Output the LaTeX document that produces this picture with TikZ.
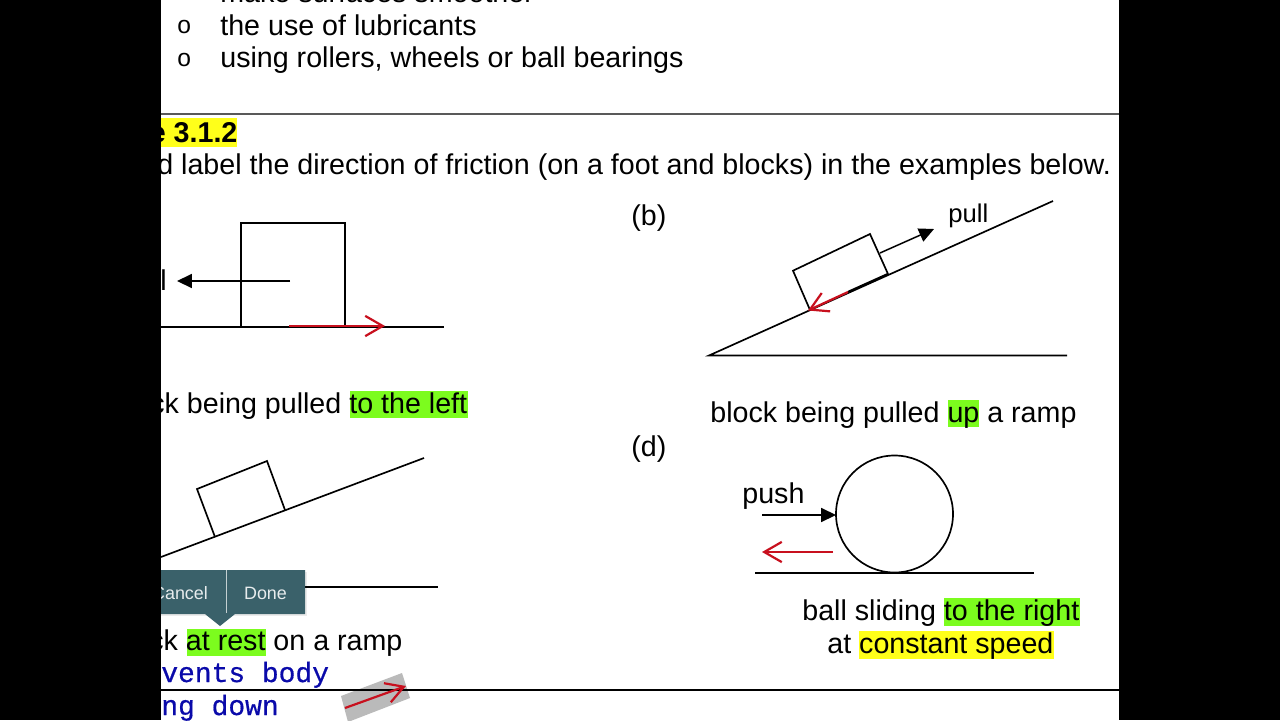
\documentclass[tikz,border=0pt]{standalone}
\usepackage{fontspec}
\setmainfont{Liberation Sans}
\newfontfamily\codefont[FakeBold=0.6]{Liberation Mono}
\usetikzlibrary{arrows.meta}
\definecolor{hlgreen}{HTML}{7CFC1E}
\definecolor{hlyellow}{HTML}{FFFF1A}
\definecolor{popup}{HTML}{3A616A}
\definecolor{frictionred}{HTML}{C8101E}
\definecolor{codeblue}{HTML}{0A0AAA}
\tikzset{
    txt/.style={font=\fontsize{16.3}{18}\selectfont,inner sep=0pt,anchor=base west,text=black},
    surface/.style={line width=0.95pt},
    force/.style={line width=0.85pt,-{Triangle[length=8.5pt,width=8pt]}},
    friction/.style={line width=1.25pt,frictionred,-{Straight Barb[length=10pt,width=11.5pt,line width=1.25pt]}},
    code/.style={font=\codefont\fontsize{15.9}{18}\selectfont,inner sep=0pt,anchor=base west,text=codeblue}
}
\begin{document}
\begin{tikzpicture}[x=0.02cm,y=-0.02cm]
\useasboundingbox (0,0) rectangle (1280,720);
\fill[white] (0,0) rectangle (1280,720);
% highlights
\fill[hlyellow] (155,118) rectangle (237,147);
\fill[hlgreen] (350,391) rectangle (468,418);
\fill[hlgreen] (948,400) rectangle (979,427);
\fill[hlgreen] (187,629) rectangle (266,656);
\fill[hlgreen] (944,598) rectangle (1080,626);
\fill[hlyellow] (859,631) rectangle (1054,659);
% rules
\draw[line width=0.7pt,black!65] (161,114) -- (1119,114);
% bullet list
\node[txt] (top) at (220,3) {make surfaces smoother};
\node[txt,font=\fontsize{14}{16}\selectfont] (bulb) at (177,33.5) {o};
\node[txt,font=\fontsize{14}{16}\selectfont] (bulc) at (177,66.5) {o};
\node[txt] (lub) at (220,35) {the use of lubricants};
\node[txt] (rol) at (220,67) {using rollers, wheels or ball bearings};
% heading
\node[txt,font=\bfseries\fontsize{16.3}{18}\selectfont] (head) at (149.5,142) {e 3.1.2};
\node[txt] (task) at (157,174) {d label the direction of friction (on a foot and blocks) in the examples below.};
% (a)
\coordinate (a0) at (161,327); \coordinate (a1) at (444,327);
\draw[surface] (a0) -- (a1);
\draw[surface] (241,327) rectangle (345,223);
\coordinate (apull) at (290,281); \coordinate (apulltip) at (177,281);
\draw[force] (apull) -- (apulltip);
\node[txt] (pulla) at (160,290) {l};
\coordinate (afr) at (289,326); \coordinate (afrtip) at (385,326);
\draw[friction] (afr) -- (afrtip);
\node[txt] (capa) at (150,413) {ck being pulled to the left};
% (b)
\node[txt] (labb) at (631,225) {(b)};
\coordinate (b0) at (709,355.5); \coordinate (b1) at (1053,201); \coordinate (b2) at (1067,355.5);
\draw[surface] (b1) -- (b0) -- (b2);
\draw[surface] (810,310) -- (793,270.7) -- (870,234) -- (888,274);
\draw[line width=1.3pt] (848,292) -- (888,274);
\coordinate (bpull) at (880,253); \coordinate (bpulltip) at (934,229);
\draw[force] (bpull) -- (bpulltip);
\node[txt,font=\fontsize{14.6}{16}\selectfont] (pullb) at (948,222) {pull};
\coordinate (bfr) at (848,292); \coordinate (bfrtip) at (808,310.5);
\draw[friction] (bfr) -- (bfrtip);
\node[txt] (capb) at (710,422) {block being pulled up a ramp};
% (c)
\coordinate (c0) at (161,557); \coordinate (c1) at (424,458);
\draw[surface] (c0) -- (c1);
\draw[surface] (215,537) -- (197,489) -- (267,461) -- (285,510);
\coordinate (c2) at (300,587); \coordinate (c3) at (438,587);
\draw[surface] (c2) -- (c3);
\node[txt] (capc) at (149,650) {ck at rest on a ramp};
% popup
\fill[black,opacity=0.08] (161,572) rectangle (307,616);
\fill[popup] (150,570) -- (305,570) -- (305,614) -- (235,614) -- (220,626) -- (205,614) -- (150,614) -- cycle;
\draw[white!70!popup,line width=0.5pt] (226.5,570) -- (226.5,613);
\node[font=\fontsize{10.2}{12}\selectfont,text=white!88!popup,inner sep=0pt,anchor=base] (cancel) at (180,599) {Cancel};
\node[font=\fontsize{10.2}{12}\selectfont,text=white!88!popup,inner sep=0pt,anchor=base] (done) at (265.5,599) {Done};
% (d)
\node[txt] (labd) at (631,456) {(d)};
\coordinate (d0) at (755,573); \coordinate (d1) at (1034,573);
\draw[surface] (d0) -- (d1);
\draw[surface] (894.5,514) circle (58.5);
\node[txt] (push) at (742,503) {push};
\coordinate (dpush) at (762,515); \coordinate (dpushtip) at (836,515);
\draw[force] (dpush) -- (dpushtip);
\coordinate (dfr) at (833,552); \coordinate (dfrtip) at (762,552);
\draw[friction] (dfr) -- (dfrtip);
\node[txt] (capd) at (802,620) {ball sliding to the right};
\node[txt] (cape) at (827,653) {at constant speed};
% bottom
\node[code] (codea) at (161,682) {vents body};
\node[code] (codeb) at (161,715) {ng down};
\fill[black!27] (341,696) -- (402,673) -- (410,698) -- (348,722) -- cycle;
\draw[line width=0.7pt] (161,690) -- (1119,690);
\coordinate (sa) at (345,708); \coordinate (sb) at (406,686);
\draw[friction] (sa) -- (sb);
% black side bars
\fill[black] (0,0) rectangle (161,720);
\fill[black] (1119,0) rectangle (1280,720);
\end{tikzpicture}
\end{document}
